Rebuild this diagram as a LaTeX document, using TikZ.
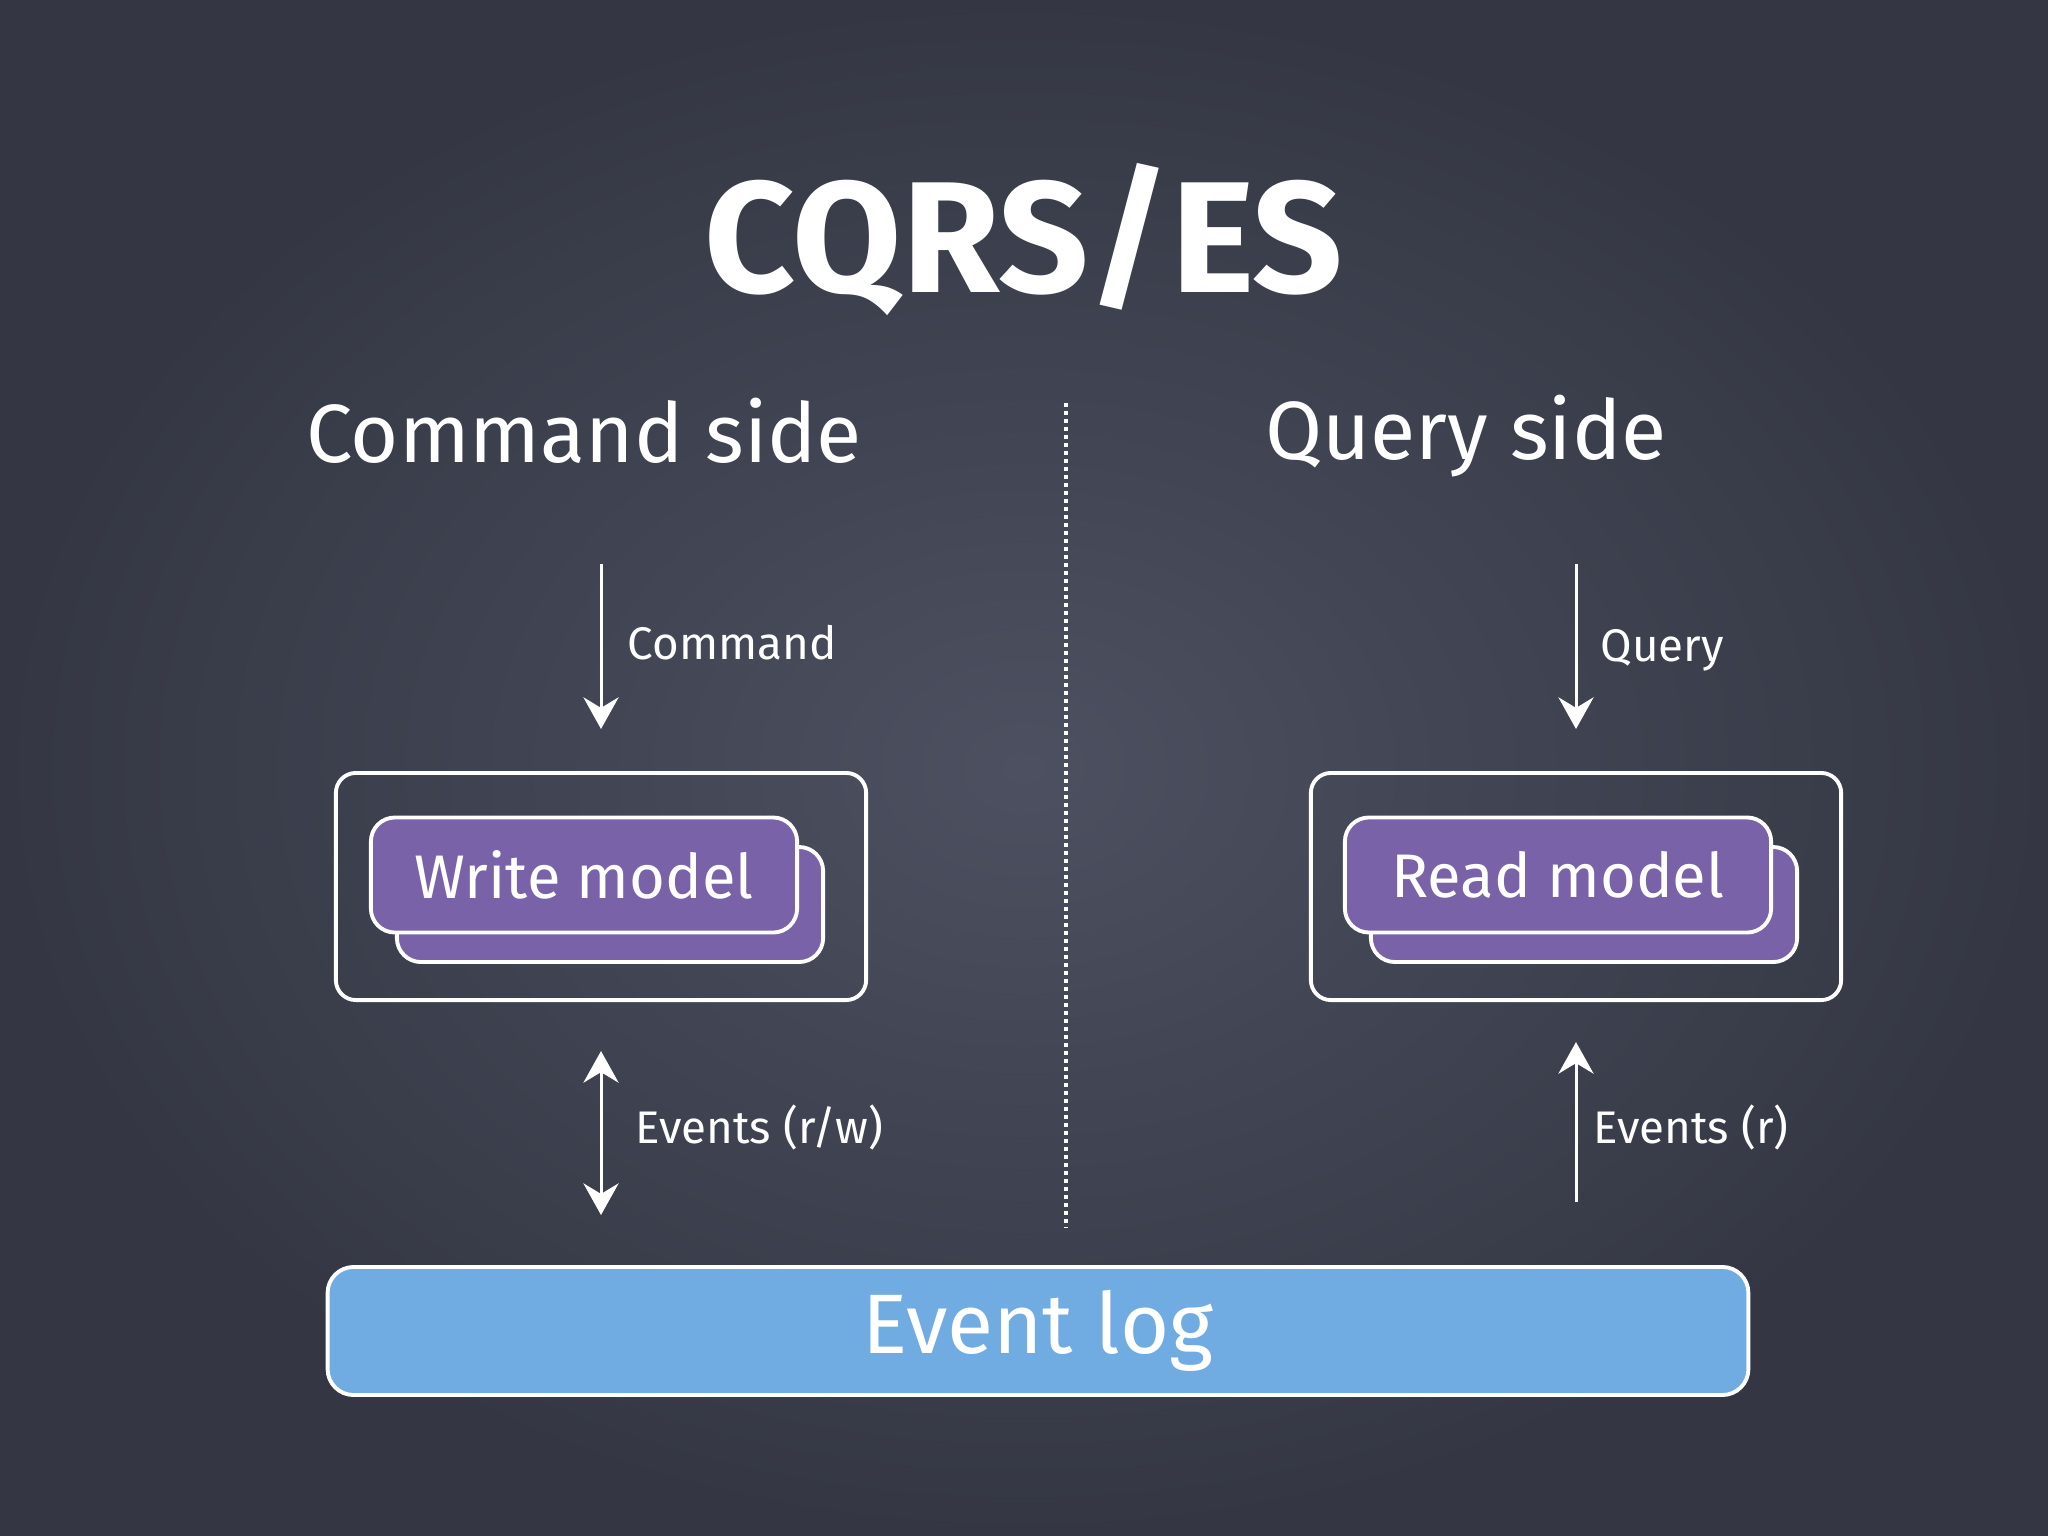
\documentclass[tikz,border=0pt]{standalone}
\usepackage{fontspec}
\setmainfont{Fira Sans}
\usetikzlibrary{arrows.meta}
\definecolor{boardin}{HTML}{4C5060}
\definecolor{boardout}{HTML}{343743}
\definecolor{chalkpurple}{HTML}{7A62A8}
\definecolor{chalkblue}{HTML}{70ABE2}
\tikzset{
  chalkline/.style={draw=white, line width=1.1pt},
  outerbox/.style={chalkline, rounded corners=0.2cm, inner sep=0pt, minimum width=5.30cm, minimum height=2.27cm},
  modelbox/.style={chalkline, fill=chalkpurple, rounded corners=0.24cm, inner sep=0pt, minimum width=4.26cm, minimum height=1.15cm, text=white, font=\fontsize{17.5}{20}\selectfont},
  logbox/.style={chalkline, fill=chalkblue, rounded corners=0.26cm, inner sep=0pt, minimum width=14.20cm, minimum height=1.28cm, text=white, font=\fontsize{24}{28}\selectfont},
  arr/.style={white, line width=0.85pt, -{Stealth[length=9pt,width=10pt,inset=3pt]}},
  biarr/.style={white, line width=0.85pt, {Stealth[length=9pt,width=10pt,inset=3pt]}-{Stealth[length=9pt,width=10pt,inset=3pt]}},
  lbl/.style={text=white, anchor=west, inner sep=0pt, font=\fontsize{13}{15}\selectfont},
  heading/.style={text=white, inner sep=0pt, font=\fontsize{23.5}{27}\selectfont},
  divider/.style={white, line width=0.04cm, dash pattern=on 0.04cm off 0.04cm}
}
\begin{document}
\begin{tikzpicture}[x=0.01cm, y=-0.01cm]
\useasboundingbox (0,0) rectangle (2048,1536);
\shade[inner color=boardin, outer color=boardout] (0,0) rectangle (2048,1536);

% title and headings
\node[text=white, inner sep=0pt, font=\fontsize{45}{50}\selectfont\bfseries] (title) at (1024,240) {CQRS/ES};
\node[heading] (cmdside) at (584,431) {Command side};
\node[heading] (qryside) at (1466,436) {Query side};

% divider
\coordinate (dtop) at (1066,403);
\coordinate (dbot) at (1066,1228);
\draw[divider] (dtop) -- (dbot);

% command side
\node[outerbox] (outerL) at (601,886.5) {};
\node[modelbox] (backL) at (610,904.5) {};
\node[modelbox] (frontL) at (584,875) {Write model};

% query side
\node[outerbox] (outerR) at (1576,886.5) {};
\node[modelbox] (backR) at (1584,904.5) {};
\node[modelbox] (frontR) at (1558,875) {Read model};

% event log
\node[logbox] (log) at (1038,1331) {Event log};

% incoming arrows
\coordinate (cmdtop) at (601,564);
\coordinate (qrytop) at (1576,564);
\draw[arr, shorten >=0.42cm] (cmdtop) -- (outerL.north);
\draw[arr, shorten >=0.42cm] (qrytop) -- (outerR.north);
\node[lbl] (cmdlbl) at (627,643) {Command};
\node[lbl] (qrylbl) at (1600,650) {Query};

% event arrows
\draw[biarr, shorten <=0.49cm, shorten >=0.50cm] (outerL.south) -- (outerL.south |- log.north);
\draw[arr, shorten <=0.63cm, shorten >=0.40cm] (outerR.south |- log.north) -- (outerR.south);
\node[lbl] (evrw) at (635,1127) {Events (r/w)};
\node[lbl] (evr) at (1593,1127) {Events (r)};
\end{tikzpicture}
\end{document}
